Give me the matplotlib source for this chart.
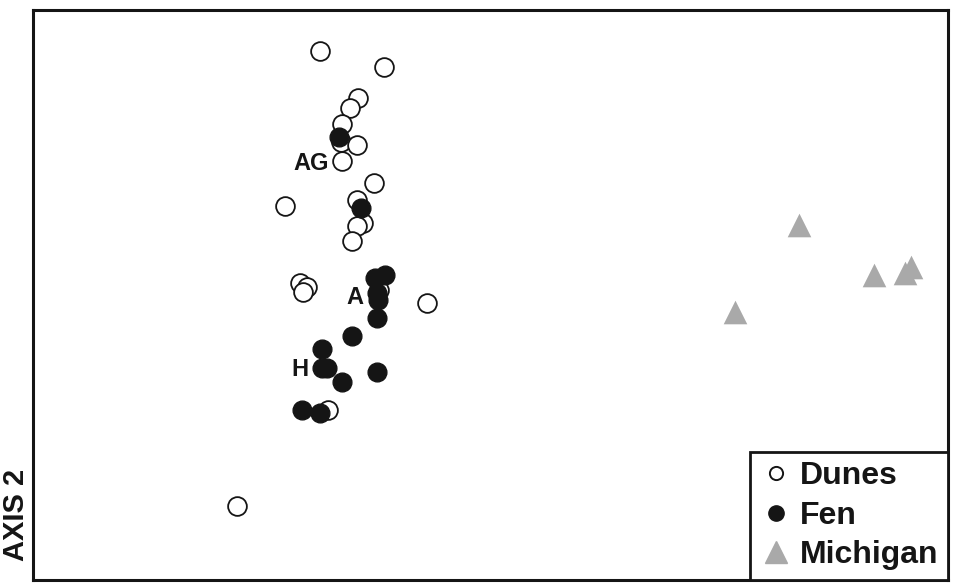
import matplotlib
matplotlib.use("Agg")
import matplotlib.pyplot as plt
from matplotlib.lines import Line2D

plt.rcParams['font.family'] = ['Liberation Sans', 'DejaVu Sans']

# ordination scores (arbitrary units)
dunes_x = [287, 351, 325, 317, 309, 308, 324, 309, 341, 252, 324, 330, 324, 319,
           267, 274, 270, 346, 394, 295, 204]
dunes_y = [529, 513, 482, 472, 456, 438, 435, 419, 397, 374, 380, 357, 354, 339,
           297, 293, 288, 290, 277, 170, 74]

fen_x = [306, 328, 342, 352, 344, 345, 344, 319, 289, 289, 294, 309, 344, 269, 287]
fen_y = [443, 372, 302, 305, 287, 280, 262, 244, 231, 212, 212, 198, 208, 170, 167]

mich_x = [766, 702, 841, 872, 878]
mich_y = [355, 268, 305, 307, 313]

site_labels = ["AG", "A", "H"]
site_label_x = [278, 322, 267]
site_label_y = [417, 282, 211]

gray = "#a9a9a9"
ink = "#151515"


def main():
    fig = plt.figure(figsize=(9.66, 5.87), dpi=100)
    ax = fig.add_axes([33 / 966, 7 / 587, 915 / 966, 570 / 587])

    ax.scatter(dunes_x, dunes_y, s=13.5 ** 2, facecolor="white",
               edgecolor=ink, linewidth=1.3, zorder=2)
    ax.scatter(fen_x, fen_y, s=13.5 ** 2, facecolor=ink,
               edgecolor=ink, linewidth=1.0, zorder=3)
    ax.scatter(mich_x, mich_y, s=17 ** 2, marker="^", color=gray,
               linewidth=0, zorder=2)

    for lab, x, y in zip(site_labels, site_label_x, site_label_y):
        ax.text(x, y, lab, ha="center", va="center", fontsize=17,
                fontweight="bold", color=ink, zorder=4)

    ax.set_xlim(0, 915)
    ax.set_ylim(0, 570)
    ax.set_xticks([])
    ax.set_yticks([])
    for sp in ax.spines.values():
        sp.set_linewidth(2.2)
        sp.set_color(ink)

    handles = [
        Line2D([], [], ls="none", marker="o", ms=9.5, mfc="white", mec=ink, mew=1.4),
        Line2D([], [], ls="none", marker="o", ms=11, mfc=ink, mec=ink),
        Line2D([], [], ls="none", marker="^", ms=16, mfc=gray, mec=gray),
    ]
    leg = ax.legend(handles, ["Dunes", "Fen", "Michigan"], loc="lower right",
                    borderaxespad=0, fancybox=False, framealpha=1,
                    handlelength=1.0, handletextpad=0.25, labelspacing=0.3,
                    borderpad=0.3,
                    prop={"size": 23, "weight": "bold"})
    leg.get_frame().set_edgecolor(ink)
    leg.get_frame().set_linewidth(2.0)
    for t in leg.get_texts():
        t.set_color(ink)

    fig.text(16 / 966, 1 - 515 / 587, "AXIS 2", rotation=90, ha="center",
             va="center", fontsize=21, fontweight="bold", color=ink)

    fig.savefig("out.png", dpi=100)


if __name__ == "__main__":
    main()
